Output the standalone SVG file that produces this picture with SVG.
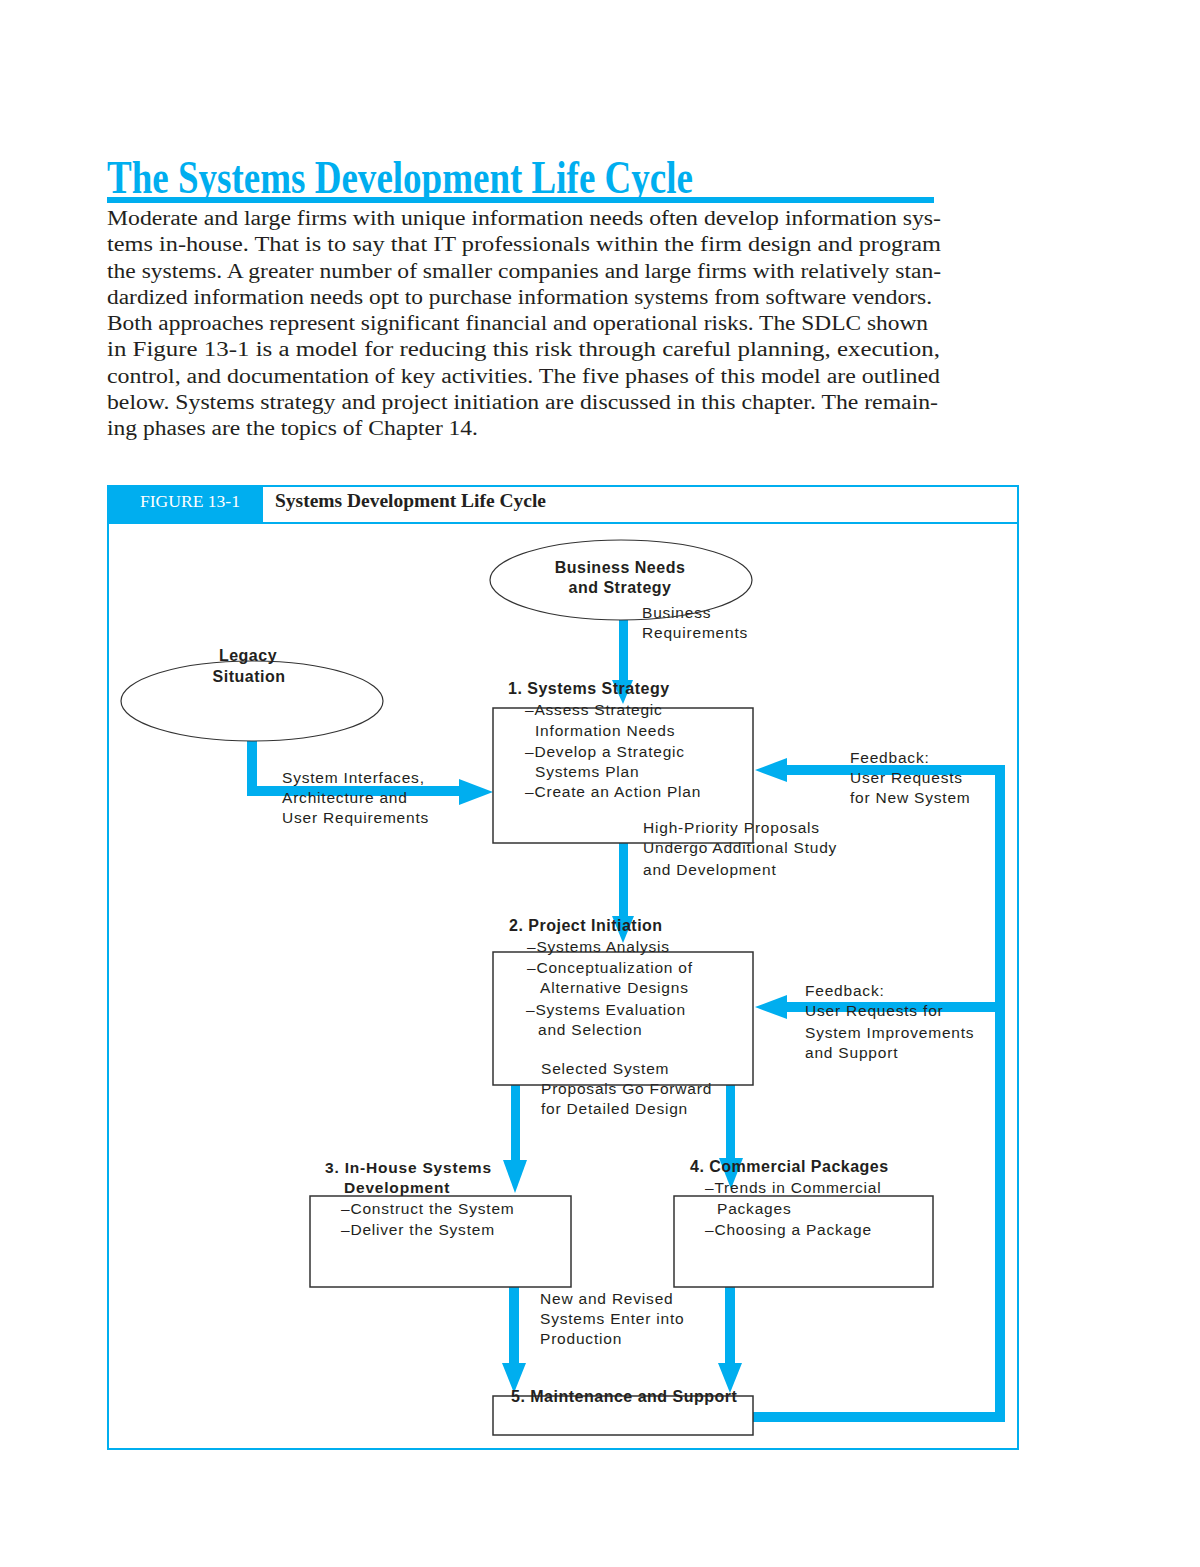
<svg xmlns="http://www.w3.org/2000/svg" width="1200" height="1567" viewBox="0 0 1200 1567">
<style>
.para{font-family:"Liberation Serif",serif;font-size:20.5px;fill:#231F20}
.lbl{font-family:"Liberation Sans",Arial,sans-serif;font-size:15.5px;letter-spacing:0.8px;fill:#231F20}
.bold{font-family:"Liberation Sans",Arial,sans-serif;font-size:16px;font-weight:bold;letter-spacing:0.5px;fill:#231F20}
.box{fill:none;stroke:#333;stroke-width:1.5}
.ell{fill:none;stroke:#333;stroke-width:1.2}
.blue{fill:#00AEEF}
.bline{fill:none;stroke:#00AEEF;stroke-width:10}
</style>
<rect width="1200" height="1567" fill="#fff"/>
<g id="title">
<text x="107" y="193" font-family="Liberation Serif,serif" font-size="47" font-weight="bold" fill="#00AEEF" textLength="586" lengthAdjust="spacingAndGlyphs">The Systems Development Life Cycle</text>
<rect x="107" y="197" width="827" height="6" class="blue"/>
</g>
<g id="paragraph" class="para">
<text x="107" y="225" textLength="834" lengthAdjust="spacingAndGlyphs">Moderate and large firms with unique information needs often develop information sys-</text>
<text x="107" y="251.3" textLength="834" lengthAdjust="spacingAndGlyphs">tems in-house. That is to say that IT professionals within the firm design and program</text>
<text x="107" y="277.5" textLength="834" lengthAdjust="spacingAndGlyphs">the systems. A greater number of smaller companies and large firms with relatively stan-</text>
<text x="107" y="303.8" textLength="825" lengthAdjust="spacingAndGlyphs">dardized information needs opt to purchase information systems from software vendors.</text>
<text x="107" y="330" textLength="821" lengthAdjust="spacingAndGlyphs">Both approaches represent significant financial and operational risks. The SDLC shown</text>
<text x="107" y="356.3" textLength="833" lengthAdjust="spacingAndGlyphs">in Figure 13-1 is a model for reducing this risk through careful planning, execution,</text>
<text x="107" y="382.5" textLength="833" lengthAdjust="spacingAndGlyphs">control, and documentation of key activities. The five phases of this model are outlined</text>
<text x="107" y="408.8" textLength="831" lengthAdjust="spacingAndGlyphs">below. Systems strategy and project initiation are discussed in this chapter. The remain-</text>
<text x="107" y="435" textLength="371" lengthAdjust="spacingAndGlyphs">ing phases are the topics of Chapter 14.</text>
</g>
<g id="figure-frame">
<rect x="108" y="486" width="910" height="963" fill="none" stroke="#00AEEF" stroke-width="2"/>
<rect x="108" y="486" width="155" height="37" class="blue"/>
<line x1="108" y1="523" x2="1018" y2="523" stroke="#00AEEF" stroke-width="2"/>
<text x="140" y="507" font-family="Liberation Serif,serif" font-size="16" fill="#fff" textLength="100" lengthAdjust="spacingAndGlyphs">FIGURE 13-1</text>
<text x="275" y="507" font-family="Liberation Serif,serif" font-size="18" font-weight="bold" fill="#231F20" textLength="271" lengthAdjust="spacingAndGlyphs">Systems Development Life Cycle</text>
</g>
<g id="connectors">
<rect x="619" y="620" width="9" height="62" class="blue"/>
<polygon points="612,680 633,680 623,704" class="blue"/>
<polyline points="252,741 252,791 462,791" class="bline"/>
<polygon points="459,779 459,805 493,792" class="blue"/>
<rect x="619" y="843" width="9" height="75" class="blue"/>
<polygon points="612,916 634,916 623,943" class="blue"/>
<rect x="511" y="1085" width="9" height="77" class="blue"/>
<polygon points="503,1160 527,1160 515,1193" class="blue"/>
<rect x="726" y="1085" width="9" height="77" class="blue"/>
<polygon points="719,1158 743,1158 731,1189" class="blue"/>
<rect x="509" y="1287" width="10" height="78" class="blue"/>
<polygon points="502,1363 526,1363 514,1393" class="blue"/>
<rect x="725" y="1287" width="10" height="78" class="blue"/>
<polygon points="718,1363 742,1363 730,1393" class="blue"/>
<polyline points="753,1417 1000,1417 1000,770 785,770" class="bline"/>
<polygon points="787,758 787,782 755,770" class="blue"/>
<line x1="1000" y1="1007" x2="785" y2="1007" class="bline"/>
<polygon points="787,995 787,1019 755,1007" class="blue"/>
</g>
<g id="connector-labels" class="lbl">
<text x="642" y="618">Business</text>
<text x="642" y="638">Requirements</text>
<text x="282" y="783">System Interfaces,</text>
<text x="282" y="803">Architecture and</text>
<text x="282" y="823">User Requirements</text>
<text x="643" y="833">High-Priority Proposals</text>
<text x="643" y="853">Undergo Additional Study</text>
<text x="643" y="875">and Development</text>
<text x="850" y="763">Feedback:</text>
<text x="850" y="783">User Requests</text>
<text x="850" y="803">for New System</text>
<text x="805" y="996">Feedback:</text>
<text x="805" y="1016">User Requests for</text>
<text x="805" y="1038">System Improvements</text>
<text x="805" y="1058">and Support</text>
<text x="541" y="1074">Selected System</text>
<text x="541" y="1094">Proposals Go Forward</text>
<text x="541" y="1114">for Detailed Design</text>
<text x="540" y="1304">New and Revised</text>
<text x="540" y="1324">Systems Enter into</text>
<text x="540" y="1344">Production</text>
</g>
<g id="node-business-needs">
<ellipse cx="621" cy="580" rx="131" ry="40" class="ell"/>
<text x="620" y="573" class="bold" text-anchor="middle">Business Needs</text>
<text x="620" y="593" class="bold" text-anchor="middle">and Strategy</text>
</g>
<g id="node-legacy">
<ellipse cx="252" cy="701" rx="131" ry="40" class="ell"/>
<text x="248" y="661" class="bold" text-anchor="middle">Legacy</text>
<text x="249" y="682" class="bold" text-anchor="middle">Situation</text>
</g>
<g id="node-systems-strategy">
<rect x="493" y="708" width="260" height="135" class="box"/>
<text x="508" y="694" class="bold">1. Systems Strategy</text>
<text x="525" y="715" class="lbl">–Assess Strategic</text>
<text x="535" y="736" class="lbl">Information Needs</text>
<text x="525" y="757" class="lbl">–Develop a Strategic</text>
<text x="535" y="777" class="lbl">Systems Plan</text>
<text x="525" y="797" class="lbl">–Create an Action Plan</text>
</g>
<g id="node-project-initiation">
<rect x="493" y="952" width="260" height="133" class="box"/>
<text x="509" y="931" class="bold">2. Project Initiation</text>
<text x="527" y="952" class="lbl">–Systems Analysis</text>
<text x="527" y="973" class="lbl">–Conceptualization of</text>
<text x="540" y="993" class="lbl">Alternative Designs</text>
<text x="526" y="1015" class="lbl">–Systems Evaluation</text>
<text x="538" y="1035" class="lbl">and Selection</text>
</g>
<g id="node-inhouse">
<rect x="310" y="1196" width="261" height="91" class="box"/>
<text x="325" y="1173" class="lbl" font-weight="bold">3. In-House Systems</text>
<text x="344" y="1193" class="lbl" font-weight="bold">Development</text>
<text x="341" y="1214" class="lbl">–Construct the System</text>
<text x="341" y="1235" class="lbl">–Deliver the System</text>
</g>
<g id="node-commercial">
<rect x="674" y="1196" width="259" height="91" class="box"/>
<text x="690" y="1172" class="bold">4. Commercial Packages</text>
<text x="705" y="1193" class="lbl">–Trends in Commercial</text>
<text x="717" y="1214" class="lbl">Packages</text>
<text x="705" y="1235" class="lbl">–Choosing a Package</text>
</g>
<g id="node-maintenance">
<rect x="493" y="1396" width="260" height="39" class="box"/>
<text x="511" y="1402" class="bold">5. Maintenance and Support</text>
</g>
</svg>
